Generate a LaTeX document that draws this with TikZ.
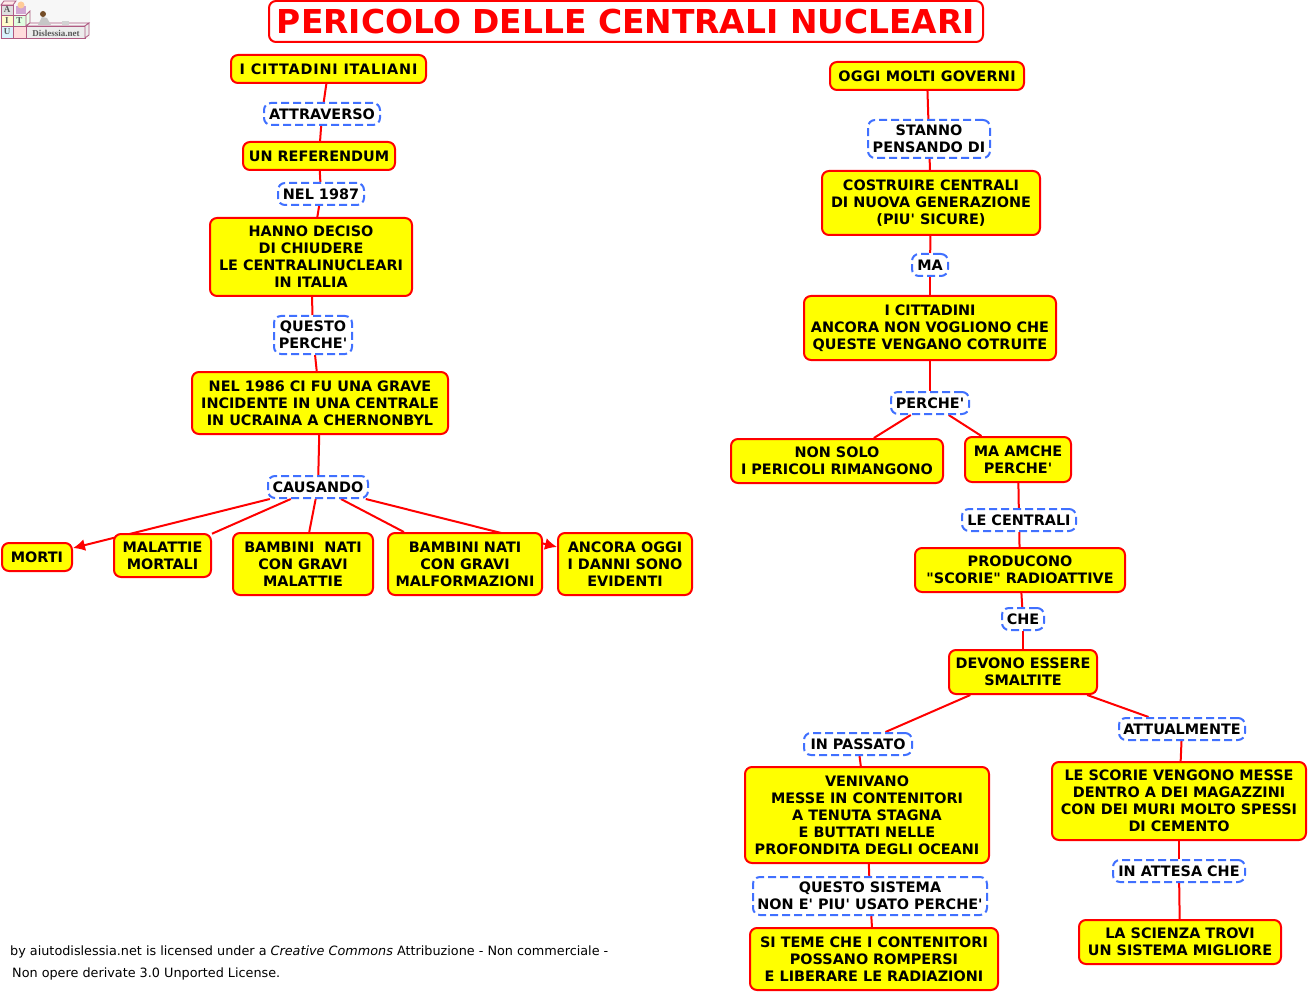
\documentclass[tikz,border=0pt]{standalone}
\usepackage{fontspec}
\newfontfamily\boxfont{DejaVu Sans}
\setmainfont{DejaVu Sans}
\newfontfamily\logofont{Liberation Serif}
\usetikzlibrary{backgrounds,arrows.meta}
\definecolor{dashblue}{RGB}{64,112,255}
\definecolor{logopink}{RGB}{175,90,130}
\definecolor{pureyellow}{RGB}{255,255,0}
\definecolor{purered}{RGB}{255,0,0}
\tikzset{
  base/.style={rounded corners=7pt,line width=2pt,inner sep=0pt,outer sep=1pt,align=center,
    font=\boxfont\fontsize{14.4}{17}\selectfont\bfseries},
  box/.style={base,draw=purered,fill=pureyellow,text=black},
  link/.style={base,draw=dashblue,fill=white,text=black,dash pattern=on 8pt off 4pt},
  titlebox/.style={base,draw=purered,fill=white,text=purered,font=\boxfont\fontsize{32.9}{36}\selectfont\bfseries},
  wire/.style={draw=purered,line width=2pt},
  arrowwire/.style={wire,-{Latex[length=12pt,width=12pt]}},
  foot/.style={anchor=west,inner sep=0pt,font=\fontsize{12.8}{15}\selectfont},
  block/.style={draw=logopink,line width=.8pt},
  logoletter/.style={inner sep=0pt,text=gray!70!black,font=\logofont\fontsize{9}{9}\selectfont\bfseries},
}
\begin{document}
\begin{tikzpicture}[x=1pt,y=-1pt]
\useasboundingbox (0,0) rectangle (1309,992);
% logo
\fill[gray!6] (0,0) rectangle (90,39);
\draw[block,fill=pink!35] (1,5) -- (4,1) -- (16,1) -- (13,5) -- cycle;
\draw[block,fill=gray!25] (1,5) rectangle (13,15);
\draw[block,fill=yellow!20] (1,15) rectangle (13,26);
\draw[block,fill=cyan!15] (1,26) rectangle (13,38);
\draw[block,fill=green!12] (13,15) rectangle (26,26);
\draw[block,fill=pink!55] (13,26) rectangle (26,38);
\draw[block,fill=green!8] (26,15) -- (30,11) -- (30,23) -- (26,26) -- cycle;
\draw[block,fill=gray!15] (26,26) rectangle (85,38);
\draw[block,fill=gray!8] (26,26) -- (30,23) -- (89,23) -- (85,26) -- cycle;
\draw[block,fill=gray!15] (85,26) -- (89,23) -- (89,35) -- (85,38) -- cycle;
\fill[violet!35] (16,6) rectangle (26,14);
\fill[orange!40] (21,5) circle (3.5);
\fill[brown!60!black] (43,14) circle (3);
\fill[gray!45] (38,25) -- (42,17) -- (47,18) -- (51,25) -- cycle;
\fill[gray!35] (62,21) rectangle (69,25);
\node[logoletter] (logoA) at (7,10) {A};
\node[logoletter] (logoI) at (7,20.5) {I};
\node[logoletter] (logoT) at (19.5,20.5) {T};
\node[logoletter] (logoU) at (7,32) {U};
\node[logoletter] (logoN) at (56,33) {Dislessia.net};
% title
\node[titlebox,minimum width=714pt,minimum height=41pt] (title) at (626,21.5) {PERICOLO DELLE CENTRALI NUCLEARI};
% left column
\node[box,minimum width=195pt,minimum height=28pt] (a1) at (328.5,69) {\addfontfeature{LetterSpace=5.5}I CITTADINI ITALIANI};
\node[link,minimum width=116pt,minimum height=22pt] (a2) at (322,114) {ATTRAVERSO};
\node[box,minimum width=152pt,minimum height=28pt] (a3) at (319,156) {UN REFERENDUM};
\node[link,minimum width=86pt,minimum height=22pt] (a4) at (321,194) {NEL 1987};
\node[box,minimum width=202pt,minimum height=78pt] (a5) at (311,257) {HANNO DECISO\\DI CHIUDERE\\LE CENTRALINUCLEARI\\IN ITALIA};
\node[link,minimum width=78pt,minimum height=38pt] (a6) at (313,335) {QUESTO\\PERCHE'};
\node[box,minimum width=256pt,minimum height=62pt] (a7) at (320,403) {NEL 1986 CI FU UNA GRAVE\\INCIDENTE IN UNA CENTRALE\\IN UCRAINA A CHERNONBYL};
\node[link,minimum width=100pt,minimum height=22pt] (a8) at (318,487) {CAUSANDO};
\node[box,minimum width=70pt,minimum height=28pt] (m1) at (37,557) {MORTI};
\node[box,minimum width=97pt,minimum height=43pt] (m2) at (162.5,555.5) {MALATTIE\\MORTALI};
\node[box,minimum width=140pt,minimum height=62pt] (m3) at (303,564) {BAMBINI\ \ NATI\\CON GRAVI\\MALATTIE};
\node[box,minimum width=154pt,minimum height=62pt] (m4) at (465,564) {BAMBINI NATI\\CON GRAVI\\MALFORMAZIONI};
\node[box,minimum width=134pt,minimum height=62pt] (m5) at (625,564) {ANCORA OGGI\\I DANNI SONO\\EVIDENTI};
% right column
\node[box,minimum width=194pt,minimum height=28pt] (b1) at (927,76) {\addfontfeature{LetterSpace=2}OGGI MOLTI GOVERNI};
\node[link,minimum width=122pt,minimum height=38pt] (b2) at (929,139) {STANNO\\PENSANDO DI};
\node[box,minimum width=218pt,minimum height=64pt] (b3) at (931,203) {COSTRUIRE CENTRALI\\DI NUOVA GENERAZIONE\\(PIU' SICURE)};
\node[link,minimum width=36pt,minimum height=22pt] (b4) at (930,265) {MA};
\node[box,minimum width=252pt,minimum height=64pt] (b5) at (930,328) {I CITTADINI\\ANCORA NON VOGLIONO CHE\\QUESTE VENGANO COTRUITE};
\node[link,minimum width=78pt,minimum height=22pt] (b6) at (930,403) {PERCHE'};
\node[box,minimum width=212pt,minimum height=44pt] (b7) at (837,461) {NON SOLO\\I PERICOLI RIMANGONO};
\node[box,minimum width=106pt,minimum height=45pt] (b8) at (1018,459.5) {MA AMCHE\\PERCHE'};
\node[link,minimum width=114pt,minimum height=22pt] (b9) at (1019,520) {LE CENTRALI};
\node[box,minimum width=210pt,minimum height=44pt] (b10) at (1020,570) {PRODUCONO\\"SCORIE" RADIOATTIVE};
\node[link,minimum width=42pt,minimum height=22pt] (b11) at (1023,619) {CHE};
\node[box,minimum width=148pt,minimum height=44pt] (b12) at (1023,672) {DEVONO ESSERE\\SMALTITE};
\node[link,minimum width=108pt,minimum height=22pt] (c1) at (858,744) {IN PASSATO};
\node[link,minimum width=126pt,minimum height=22pt] (d1) at (1182,729) {ATTUALMENTE};
\node[box,minimum width=244pt,minimum height=96pt] (c2) at (867,815) {VENIVANO\\MESSE IN CONTENITORI\\A TENUTA STAGNA\\E BUTTATI NELLE\\PROFONDITA DEGLI OCEANI};
\node[box,minimum width=254pt,minimum height=78pt] (d2) at (1179,801) {LE SCORIE VENGONO MESSE\\DENTRO A DEI MAGAZZINI\\CON DEI MURI MOLTO SPESSI\\DI CEMENTO};
\node[link,minimum width=234pt,minimum height=38pt] (c3) at (870,896) {QUESTO SISTEMA\\NON E' PIU' USATO PERCHE'};
\node[link,minimum width=132pt,minimum height=22pt] (d3) at (1179,871) {IN ATTESA CHE};
\node[box,minimum width=248pt,minimum height=62pt] (c4) at (874,959) {SI TEME CHE I CONTENITORI\\POSSANO ROMPERSI\\E LIBERARE LE RADIAZIONI};
\node[box,minimum width=202pt,minimum height=44pt] (d4) at (1180,942) {LA SCIENZA TROVI\\UN SISTEMA MIGLIORE};
% footer
\node[foot] (f1) at (10,952) {by aiutodislessia.net is licensed under a \textit{Creative Commons} Attribuzione - Non commerciale -};
\node[foot] (f2) at (12,974) {Non opere derivate 3.0 Unported License.};
% connectors
\begin{scope}[on background layer]
\draw[wire] (a1) -- (a2);
\draw[wire] (a2) -- (a3);
\draw[wire] (a3) -- (a4);
\draw[wire] (a4) -- (a5);
\draw[wire] (a5) -- (a6);
\draw[wire] (a6) -- (a7);
\draw[wire] (a7) -- (a8);
\draw[arrowwire] (a8) -- (m1);
\draw[wire] (a8) -- (m2);
\draw[wire] (a8) -- (m3);
\draw[wire] (a8) -- (m4);
\draw[arrowwire] (a8) -- (m5);
\draw[wire] (b1) -- (b2);
\draw[wire] (b2) -- (b3);
\draw[wire] (b3) -- (b4);
\draw[wire] (b4) -- (b5);
\draw[wire] (b5) -- (b6);
\draw[wire] (b6) -- (b7);
\draw[wire] (b6) -- (b8);
\draw[wire] (b8) -- (b9);
\draw[wire] (b9) -- (b10);
\draw[wire] (b10) -- (b11);
\draw[wire] (b11) -- (b12);
\draw[wire] (b12) -- (c1);
\draw[wire] (b12) -- (d1);
\draw[wire] (c1) -- (c2);
\draw[wire] (d1) -- (d2);
\draw[wire] (c2) -- (c3);
\draw[wire] (d2) -- (d3);
\draw[wire] (c3) -- (c4);
\draw[wire] (d3) -- (d4);
\end{scope}
\end{tikzpicture}
\end{document}
